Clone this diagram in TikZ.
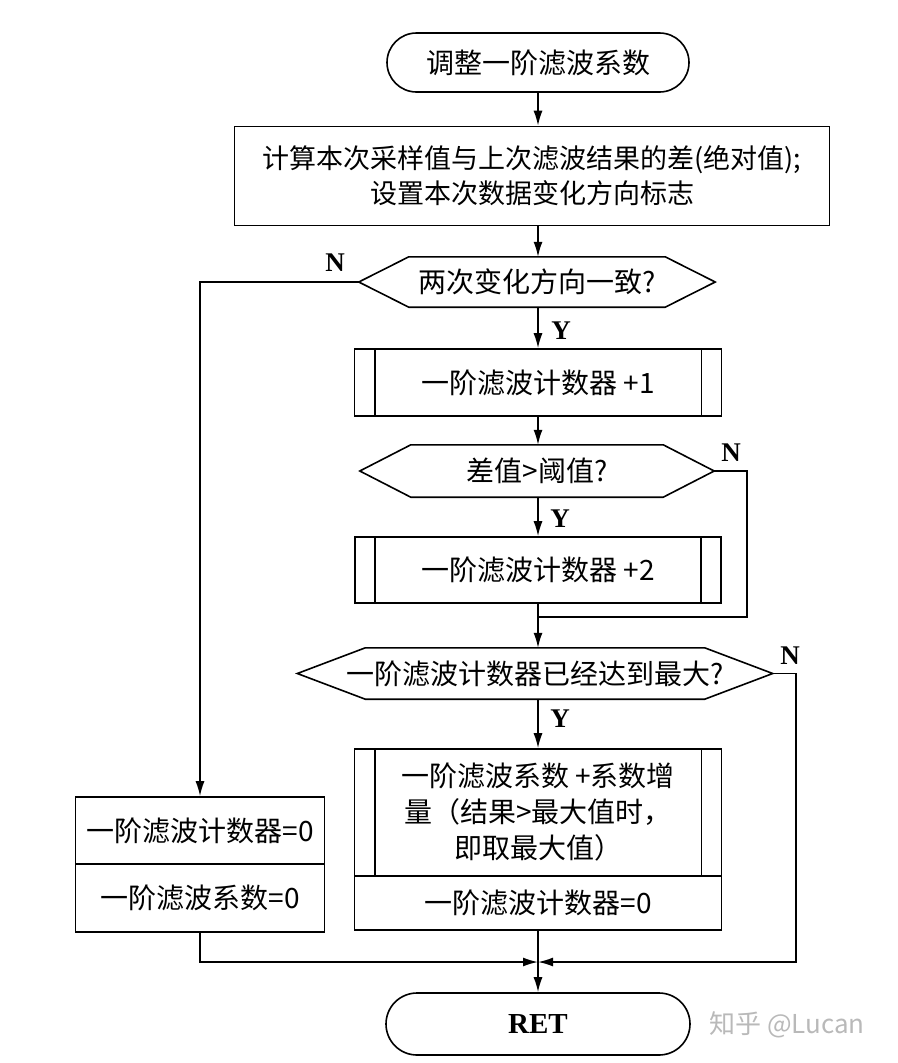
\documentclass[tikz,border=0pt]{standalone}
\usepackage{fontspec}
\newfontfamily\cjk{Noto Sans CJK SC}
\newfontfamily\lat{Liberation Serif}
\usetikzlibrary{shapes.misc,arrows.meta}

\tikzstyle{line} = [draw, line width=1.6pt, -{Latex[length=15pt,width=9pt]}]
\tikzstyle{wire} = [draw, line width=1.6pt, -]
\tikzstyle{box} = [draw, line width=1.6pt, rectangle, inner sep=0pt, align=center, font=\cjk\fontsize{28}{36}\selectfont]
\tikzstyle{term} = [box, rounded rectangle]
\tikzstyle{test} = [rectangle, inner sep=0pt, align=center, font=\cjk\fontsize{28}{36}\selectfont]
\tikzstyle{yn} = [inner sep=0pt, font=\lat\bfseries\fontsize{27}{27}\selectfont]

\begin{document}
\begin{tikzpicture}[x=1pt, y=-1pt]
       \useasboundingbox (0,0) rectangle (897,1063);
       % main column
       \node[term, minimum width=302, minimum height=59] (start) at (538,62.5) {调整一阶滤波系数};
       \node[box, minimum width=595, minimum height=99, font=\cjk\fontsize{27}{35}\selectfont] (calc) at (532,176) {计算本次采样值与上次滤波结果的差(绝对值);\\设置本次数据变化方向标志};
       \node[test, minimum width=356, minimum height=50] (dir) at (537,282) {两次变化方向一致?};
       \node[box, minimum width=367, minimum height=67] (inc1) at (538,382.5) {一阶滤波计数器 +1};
       \node[test, minimum width=354, minimum height=52] (thr) at (537,471) {差值>阈值?};
       \node[box, minimum width=366, minimum height=66] (inc2) at (538,570) {一阶滤波计数器 +2};
       \node[test, minimum width=475, minimum height=51] (max) at (535,673.5) {一阶滤波计数器已经达到最大?};
       \node[box, minimum width=367, minimum height=127] (updA) at (538,812.5) {一阶滤波系数 +系数增\\量（结果>最大值时，\\即取最大值）};
       \node[box, minimum width=367, minimum height=54] (updB) at (538,903) {一阶滤波计数器=0};
       \node[term, minimum width=304, minimum height=62] (ret) at (538,1024) {\lat\bfseries\fontsize{29}{29}\selectfont RET};
       % left column
       \node[box, minimum width=249, minimum height=67] (clrA) at (200,830.5) {一阶滤波计数器=0};
       \node[box, minimum width=249, minimum height=68] (clrB) at (200,898) {一阶滤波系数=0};

       % decision outlines
       \foreach \d/\c in {dir/50, thr/51, max/68} {
           \draw[line width=1.6pt] (\d.west) -- ([xshift=\c]\d.north west) -- ([xshift=-\c]\d.north east) -- (\d.east) -- ([xshift=-\c]\d.south east) -- ([xshift=\c]\d.south west) -- cycle;
       }
       % side bars of the predefined steps
       \foreach \p in {inc1, inc2, updA} {
           \draw[line width=1.6pt] ([xshift=21]\p.north west) -- ([xshift=21]\p.south west) ([xshift=-21]\p.north east) -- ([xshift=-21]\p.south east);
       }

       % branch labels
       \node[yn] (n1) at (335,263) {N};
       \node[yn] (y1) at (561,331) {Y};
       \node[yn] (n2) at (731,453) {N};
       \node[yn] (y2) at (560,519) {Y};
       \node[yn] (n3) at (790,656) {N};
       \node[yn] (y3) at (560,719) {Y};

       \coordinate (skip2) at (747,617);
       \coordinate (skip3) at (796,962);
       \coordinate (join) at (538,962);

       \foreach \source/\sink in {start/calc, calc/dir, dir/inc1, inc1/thr, thr/inc2, inc2/max, max/updA, updB/ret} {
           \path[line] (\source.south -| start) -- (\sink.north -| start);
       }
       \path[line] (dir.west) -| (clrA.north);
       \path[wire] (thr.east) -| (skip2) -- (skip2 -| inc2.south);
       \path[line] (max.east) -| (skip3) -- (join);
       \path[line] (clrB.south) |- (join);

       \node[text=gray!55, font=\cjk\fontsize{26}{26}\selectfont] (mark) at (787,1025) {知乎 @Lucan};
\end{tikzpicture}
\end{document}
